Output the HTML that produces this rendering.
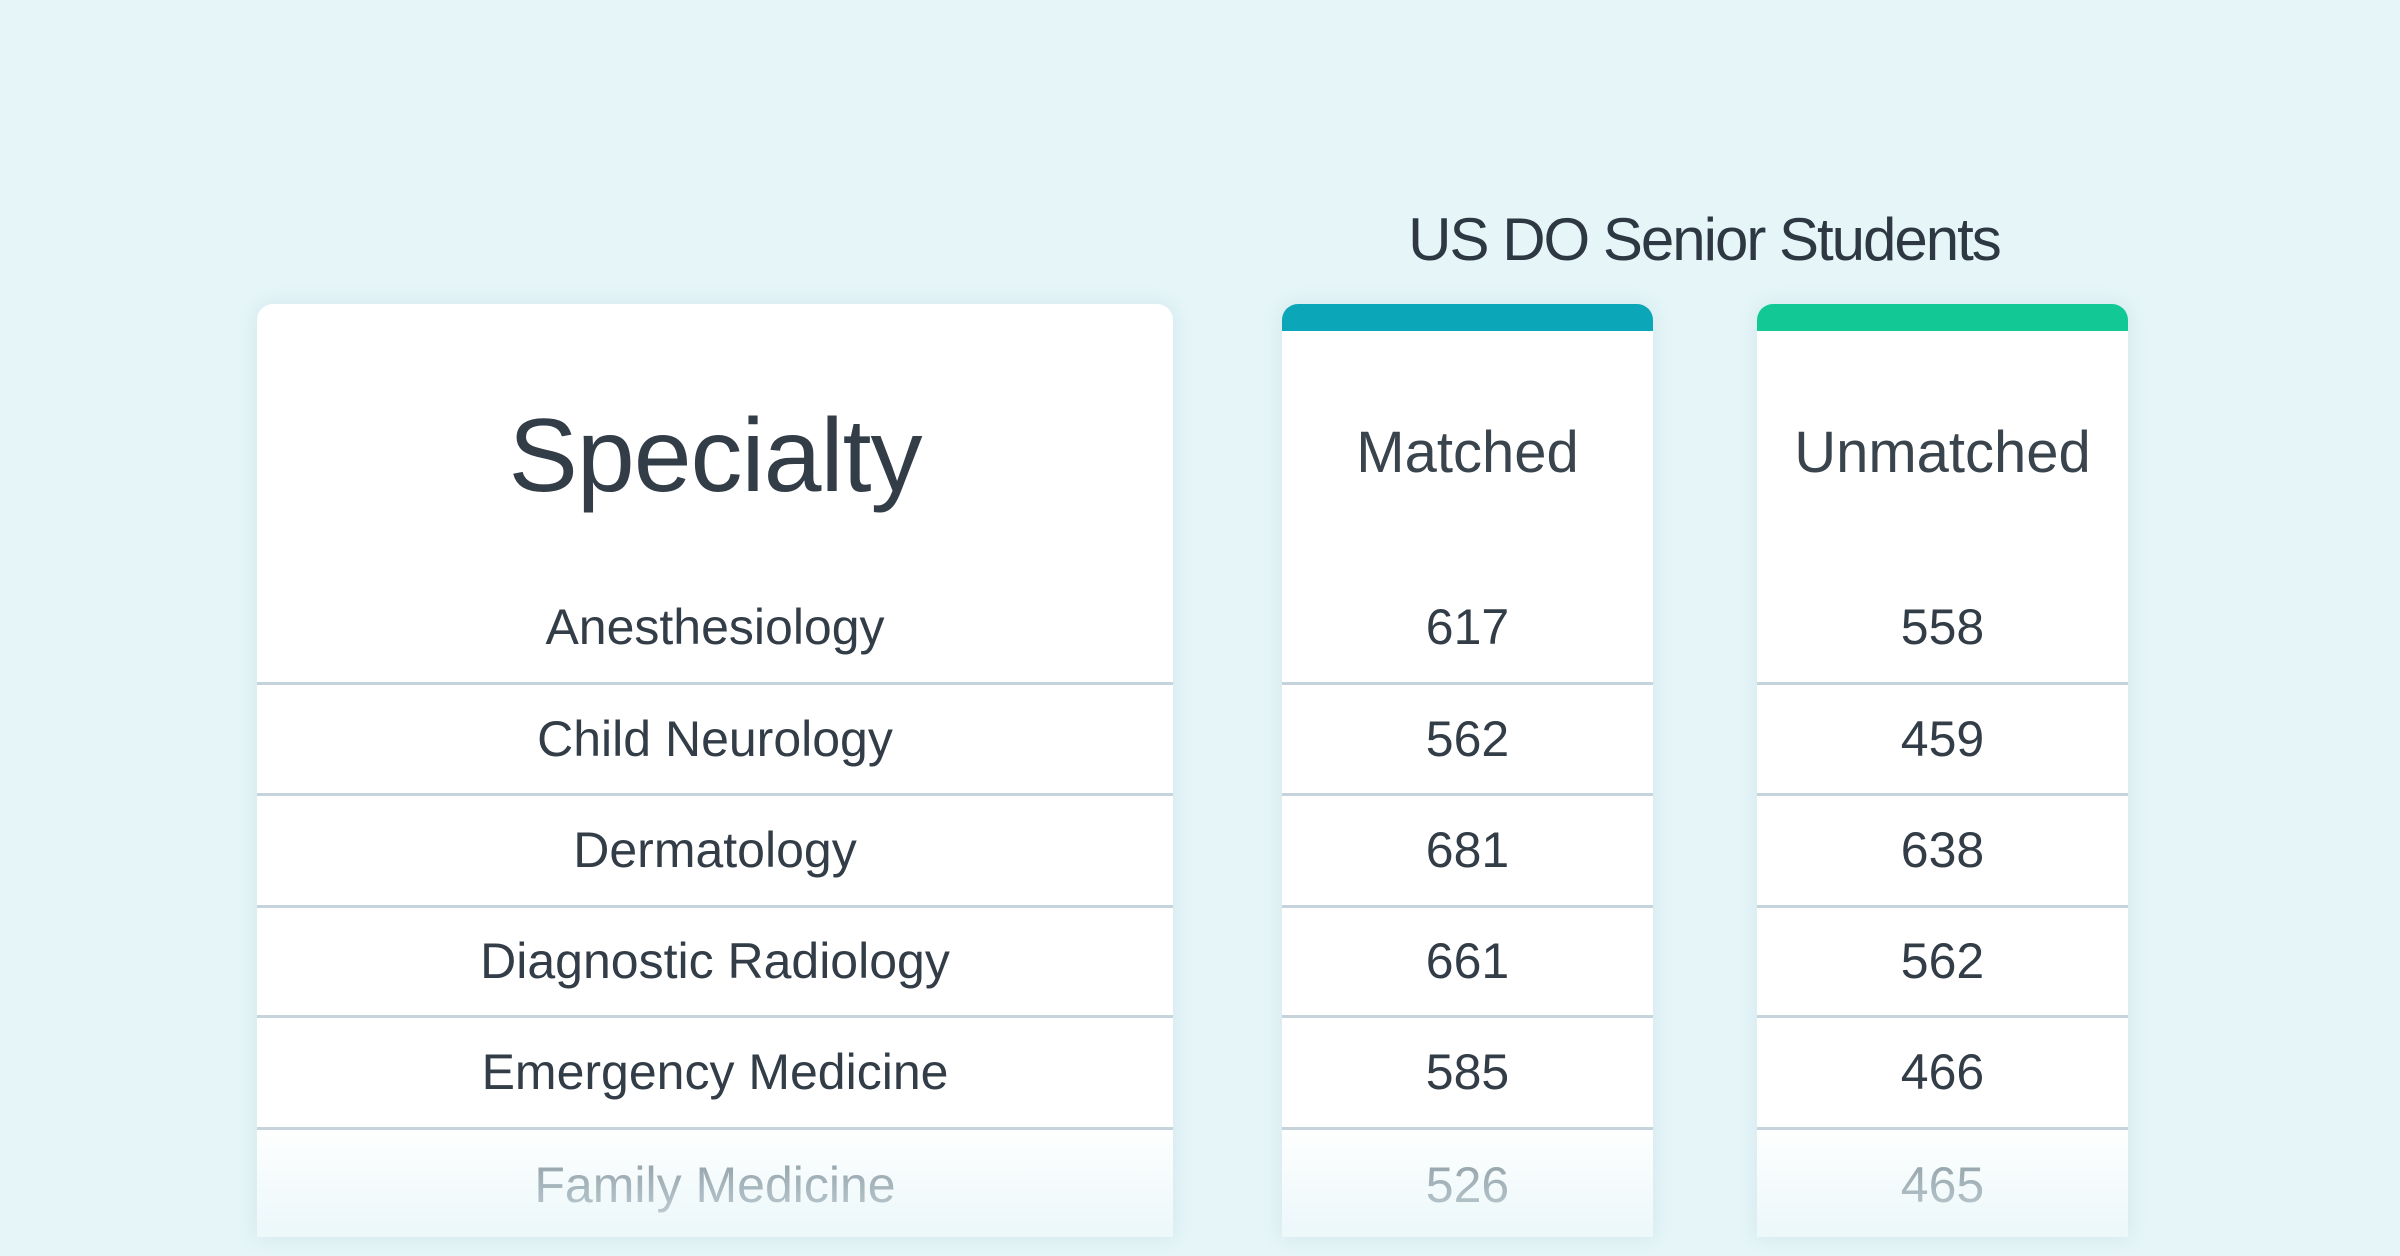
<!DOCTYPE html>
<html><head><style>
html,body{margin:0;padding:0;}
body{width:2400px;height:1256px;background:#e5f5f8;position:relative;overflow:hidden;font-family:"Liberation Sans",sans-serif;color:#333d47;}
.card{position:absolute;top:304px;height:933px;background:#fff;border-radius:16px 16px 0 0;box-shadow:0 0 18px rgba(120,170,185,0.18);overflow:hidden;}
.bar{position:absolute;left:0;right:0;top:0;height:27px;}
.hdr{position:absolute;left:0;right:0;text-align:center;}
.row{position:absolute;left:0;right:0;height:111px;line-height:111px;text-align:center;font-size:50px;}
.div{position:absolute;left:0;right:0;height:3px;background:#c5d3dd;}
.fade{position:absolute;left:0;right:0;top:826px;height:107px;background:linear-gradient(rgba(229,245,248,0.05),rgba(229,245,248,0.75));}
.title{position:absolute;left:1304px;width:800px;top:205px;text-align:center;font-size:60px;letter-spacing:-2px;color:#2d3842;}
.mh{top:109px;height:80px;line-height:80px;font-size:58px;color:#3a444d;}
</style></head><body>
<div class="title">US DO Senior Students</div>

<div class="card" style="left:257px;width:916px;">
  <div class="hdr" style="top:87px;height:130px;line-height:130px;font-size:104px;letter-spacing:-1px;">Specialty</div>
  <div class="row" style="top:268px;">Anesthesiology</div>
  <div class="div" style="top:378px"></div>
  <div class="row" style="top:380px;">Child Neurology</div>
  <div class="div" style="top:489px"></div>
  <div class="row" style="top:491px;">Dermatology</div>
  <div class="div" style="top:601px"></div>
  <div class="row" style="top:602px;">Diagnostic Radiology</div>
  <div class="div" style="top:711px"></div>
  <div class="row" style="top:713px;">Emergency Medicine</div>
  <div class="div" style="top:823px"></div>
  <div class="row" style="top:826px;color:#7a8891;">Family Medicine</div>
  <div class="fade"></div>
</div>

<div class="card" style="left:1282px;width:371px;">
  <div class="bar" style="background:#0ba6b7;"></div>
  <div class="hdr mh">Matched</div>
  <div class="row" style="top:268px;">617</div>
  <div class="div" style="top:378px"></div>
  <div class="row" style="top:380px;">562</div>
  <div class="div" style="top:489px"></div>
  <div class="row" style="top:491px;">681</div>
  <div class="div" style="top:601px"></div>
  <div class="row" style="top:602px;">661</div>
  <div class="div" style="top:711px"></div>
  <div class="row" style="top:713px;">585</div>
  <div class="div" style="top:823px"></div>
  <div class="row" style="top:826px;color:#7a8891;">526</div>
  <div class="fade"></div>
</div>

<div class="card" style="left:1757px;width:371px;">
  <div class="bar" style="background:#12c996;"></div>
  <div class="hdr mh">Unmatched</div>
  <div class="row" style="top:268px;">558</div>
  <div class="div" style="top:378px"></div>
  <div class="row" style="top:380px;">459</div>
  <div class="div" style="top:489px"></div>
  <div class="row" style="top:491px;">638</div>
  <div class="div" style="top:601px"></div>
  <div class="row" style="top:602px;">562</div>
  <div class="div" style="top:711px"></div>
  <div class="row" style="top:713px;">466</div>
  <div class="div" style="top:823px"></div>
  <div class="row" style="top:826px;color:#7a8891;">465</div>
  <div class="fade"></div>
</div>
</body></html>
